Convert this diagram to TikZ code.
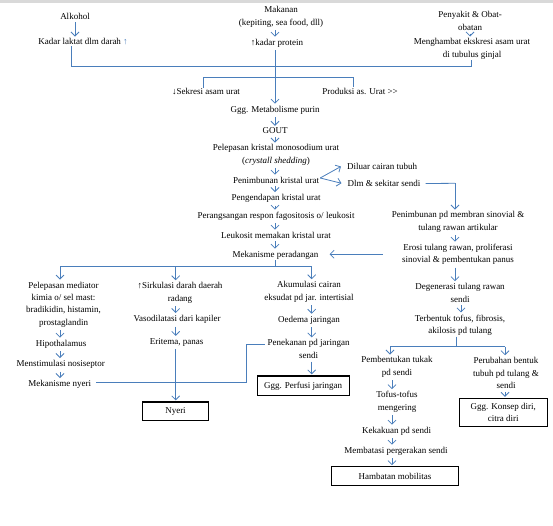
\documentclass[tikz,border=0pt]{standalone}
\usepackage{fontspec}
\setmainfont{Liberation Serif}
\usetikzlibrary{arrows.meta}
\definecolor{lb}{HTML}{4A7EBB}
\begin{document}
\begin{tikzpicture}[x=1pt,y=-1pt,
  t/.style={inner sep=1pt, align=center, font=\fontsize{9}{12.4}\selectfont},
  bx/.style={t, draw=black, line width=1.1pt, inner sep=0pt},
  ln/.style={draw=lb, line width=0.8pt},
  arr/.style={ln, -{Straight Barb[length=4pt,width=8pt]}, shorten <=2pt, shorten >=1pt},
]
\useasboundingbox (0,0) rectangle (553,525);
\fill[black!15] (0,0) rectangle (553,2.5);

% top row
\node[t] (alk) at (75,16) {Alkohol};
\node[t] (kad) at (83,42) {Kadar laktat dlm darah \textcolor{lb}{↑}};
\node[t] (mak) at (281,17) {Makanan\\(kepiting, sea food, dll)};
\node[t] (kp) at (277,43) {↑kadar protein};
\node[t] (peny) at (470,21) {Penyakit \& Obat-\\obatan};
\node[t] (meng) at (472,49) {Menghambat ekskresi asam urat\\di tubulus ginjal};
\node[t] (sek) at (206,92) {↓Sekresi asam urat};
\node[t] (prod) at (360,91) {Produksi as. Urat >{}>};
\node[t] (met) at (275,110) {Ggg. Metabolisme purin};

% main column
\node[t] (gout) at (275,131) {GOUT};
\node[t] (pel) at (276,155) {Pelepasan kristal monosodium urat\\(\textit{crystall shedding})};
\node[t] (pen) at (276,180) {Penimbunan kristal urat};
\node[t] (dil) at (382,166) {Diluar cairan tubuh};
\node[t] (dlm) at (384,183.5) {Dlm \& sekitar sendi};
\node[t] (peng) at (276,198.3) {Pengendapan kristal urat};
\node[t] (pera) at (276,216) {Perangsangan respon fagositosis o/ leukosit};
\node[t] (leu) at (276,235) {Leukosit memakan kristal urat};
\node[t] (mek) at (275.5,255) {Mekanisme peradangan};

% right column
\node[t] (pms) at (458,222) {Penimbunan pd membran sinovial \&\\tulang rawan artikular};
\node[t] (ero) at (458,254.2) {Erosi tulang rawan, proliferasi\\sinovial \& pembentukan panus};
\node[t] (deg) at (460,292.8) {Degenerasi tulang rawan\\sendi};
\node[t] (ter) at (460,325) {Terbentuk tofus, fibrosis,\\akilosis pd tulang};
\node[t] (pem) at (397,367) {Pembentukan tukak\\pd sendi};
\node[t] (per) at (506,373) {Perubahan bentuk\\tubuh pd tulang \&\\sendi};
\node[bx, minimum width=88pt, minimum height=27.7pt] (kon) at (503.3,412.2) {Ggg. Konsep diri,\\citra diri};
\node[t] (tof) at (397,401.7) {Tofus-tofus\\mengering};
\node[t] (kek) at (396.7,431) {Kekakuan pd sendi};
\node[t] (memb) at (396,451) {Membatasi pergerakan sendi};
\node[bx, minimum width=126.6pt, minimum height=19pt] (ham) at (395,476.2) {Hambatan mobilitas};

% left branches
\node[t] (plm) at (63.5,304.5) {Pelepasan mediator\\kimia o/ sel mast:\\bradikidin, histamin,\\prostaglandin};
\node[t] (hip) at (61,344) {Hipothalamus};
\node[t] (mns) at (60.7,364.3) {Menstimulasi nosiseptor};
\node[t] (mny) at (59.7,384.3) {Mekanisme nyeri};
\node[t] (sir) at (180,292.7) {↑Sirkulasi darah daerah\\radang};
\node[t] (vas) at (177,319.3) {Vasodilatasi dari kapiler};
\node[t] (eri) at (176.7,342) {Eritema, panas};
\node[bx, minimum width=65.6pt, minimum height=18.7pt] (nye) at (175.5,411.3) {Nyeri};
\node[t] (aku) at (309,291.7) {Akumulasi cairan\\eksudat pd jar. intertisial};
\node[t] (oed) at (309,320) {Oedema jaringan};
\node[t] (pnk) at (308.7,349) {Penekanan pd jaringan\\sendi};
\node[bx, minimum width=91.7pt, minimum height=19.7pt] (perf) at (303.2,385.8) {Ggg. Perfusi jaringan};

% junction coordinates
\coordinate (j1) at (71.7,66.7);
\coordinate (j1r) at (471.7,66.7);
\coordinate (j2) at (275,77.7);
\coordinate (j2l) at (203,77.7);
\coordinate (j2r) at (353,77.7);
\coordinate (d1) at (455,183.3);
\coordinate (j3) at (275,266.7);
\coordinate (jL) at (60,266.7);
\coordinate (jM) at (175.7,266.7);
\coordinate (jR) at (311.7,266.7);
\coordinate (k1) at (246.7,382.7);
\coordinate (k2) at (246.7,344.3);
\coordinate (t1) at (456.7,346.7);
\coordinate (tL) at (390,346.7);
\coordinate (tR) at (505,346.7);
\coordinate (cx) at (392,0);

% top connectors
\draw[arr] (alk) -- (alk |- kad.north);
\draw[arr] (mak.south -| j2) -- (j2 |- kp.north);
\draw[arr] (peny) -- (peny |- meng.north);
\draw[ln] (kad.south -| j1) -- (j1) -- (j1r) -- (j1r |- meng.south);
\draw[ln] (j2l |- sek.north) -- (j2l) -- (j2r) -- (j2r |- prod.north);
\draw[arr] (kp.south -| j2) -- (j2 |- met.north);

% main column
\draw[arr] (met.south -| j2) -- (j2 |- gout.north);
\draw[arr] (gout.south -| j2) -- (j2 |- pel.north);
\draw[arr] (pel.south -| j2) -- (j2 |- pen.north);
\draw[arr] (pen.south -| j2) -- (j2 |- peng.north);
\draw[arr] (peng.south -| j2) -- (j2 |- pera.north);
\draw[arr] (pera.south -| j2) -- (j2 |- leu.north);
\draw[arr] (leu.south -| j2) -- (j2 |- mek.north);
\draw[arr, shorten <=0pt] ([yshift=2pt]pen.east) -- ([xshift=-4pt]dil.west);
\draw[arr, shorten <=0pt] ([yshift=2pt]pen.east) -- ([xshift=-4pt]dlm.west);
\draw[ln] ([xshift=4pt]dlm.east) -- (d1);
\draw[arr, shorten <=0pt] (d1) -- (d1 |- pms.north);

% right column
\draw[arr] (pms.south -| d1) -- (d1 |- ero.north);
\draw[arr, shorten <=18pt, shorten >=10pt] (ero.west) -- (mek.east |- ero.west);
\draw[arr] (ero.south -| d1) -- (d1 |- deg.north);
\draw[arr] ([xshift=1pt]deg.south) -- ([xshift=1pt]deg.south |- ter.north);
\draw[ln] (ter.south -| t1) -- (t1);
\draw[ln] (tL) -- (tR);
\draw[arr, shorten <=0pt] (tL) -- (tL |- pem.north);
\draw[arr, shorten <=0pt] (tR) -- (tR |- per.north);
\draw[arr] (per.south -| tR) -- (tR |- kon.north);
\draw[arr] (pem.south -| cx) -- (cx |- tof.north);
\draw[arr] (tof.south -| cx) -- (cx |- kek.north);
\draw[arr] (kek.south -| cx) -- (cx |- memb.north);
\draw[arr] (memb.south -| cx) -- (cx |- ham.north);

% inflammation branches
\draw[ln] (mek.south -| j3) -- (j3);
\draw[ln] (jL) -- (jR);
\draw[arr, shorten <=0pt] (jL) -- (jL |- plm.north);
\draw[arr, shorten <=0pt] (jM) -- (jM |- sir.north);
\draw[arr, shorten <=0pt] (jR) -- (jR |- aku.north);
\draw[arr] (plm.south -| jL) -- (jL |- hip.north);
\draw[arr] (hip.south -| jL) -- (jL |- mns.north);
\draw[arr] (mns.south -| jL) -- (jL |- mny.north);
\draw[arr] (sir.south -| jM) -- (jM |- vas.north);
\draw[arr] (vas.south -| jM) -- (jM |- eri.north);
\draw[arr] (eri.south -| jM) -- (jM |- nye.north);
\draw[arr] (aku.south -| jR) -- (jR |- oed.north);
\draw[arr] (oed.south -| jR) -- (jR |- pnk.north);
\draw[arr] (pnk.south -| jR) -- (jR |- perf.north);
\draw[ln] ([xshift=4pt]mny.east |- k1) -- (k1) -- (k2) -- ([xshift=-2pt]pnk.west |- k2);
\end{tikzpicture}
\end{document}
